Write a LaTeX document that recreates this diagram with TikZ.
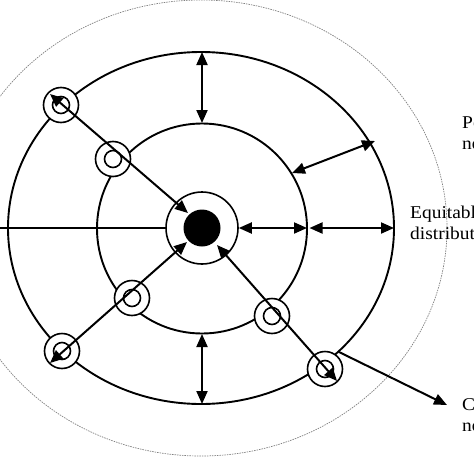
\documentclass[tikz,border=0pt]{standalone}
\usepackage{fontspec}
\setmainfont{Liberation Serif}[FakeStretch=1.08]
\usetikzlibrary{arrows.meta}
\begin{document}
\begin{tikzpicture}[x=1pt,y=-1pt,
  ring/.style={line width=1.9pt},
  conn/.style={line width=2pt},
  tip/.style={-{Triangle[length=13pt,width=11pt]}},
  tips/.style={{Triangle[length=13pt,width=11pt]}-{Triangle[length=13pt,width=11pt]}},
  member/.style={circle,draw,line width=1.6pt,fill=white,minimum size=35pt,inner sep=0pt,
    path picture={\draw[line width=1.6pt] (path picture bounding box.center) circle (8.5pt);}},
  lbl/.style={align=left,anchor=base west,inner sep=0pt,font=\fontsize{18}{21}\selectfont}
]
\useasboundingbox (0,0) rectangle (474,474);
% dotted boundary
\draw[gray,line width=0.7pt,dash pattern=on 1.5pt off 1pt] (201,228) ellipse [x radius=246, y radius=228];
% rings
\draw[ring] (201,228) ellipse [x radius=193, y radius=176];
\draw[ring] (202,228.5) circle (105);
% hub
\node[circle,draw,line width=1.6pt,minimum size=72pt,inner sep=0pt] (hubring) at (202,228) {};
\node[circle,fill=black,minimum size=37pt,inner sep=0pt] (hub) at (202,228) {};
% left line
\coordinate (lft) at (-5,228);
\draw[conn] (lft) -- (hubring.west);
% member nodes
\node[member] (n1) at (61,105) {};
\node[member] (n2) at (113,159) {};
\node[member] (n3) at (132,298) {};
\node[member] (n4) at (62,351) {};
\node[member] (n5) at (272,316) {};
\node[member] (n6) at (325,369) {};
% arrow tip coordinates
\coordinate (a1) at (50,94);   \coordinate (b1) at (188,213);
\coordinate (a4) at (50,363);  \coordinate (b4) at (187,242);
\coordinate (a6) at (337,381); \coordinate (b6) at (217,245);
\draw[conn,tips] (a1) -- (b1);
\draw[conn,tips] (a4) -- (b4);
\draw[conn,tips] (b6) -- (a6);
% ring gap arrows
\coordinate (vt1) at (202,52);  \coordinate (vt2) at (202,123);
\coordinate (vb1) at (202,334); \coordinate (vb2) at (202,404);
\coordinate (hm) at (307,228);  \coordinate (hm2) at (309.5,228); \coordinate (ho) at (394,228);
\coordinate (dm) at (292,173);  \coordinate (do) at (375,141);
\draw[conn,tips] (vt1) -- (vt2);
\draw[conn,tips] (vb1) -- (vb2);
\draw[conn,tips] (hubring.east) -- (hm);
\draw[conn,tips] (hm2) -- (ho);
\draw[conn,tips] (dm) -- (do);
% arrow to label
\coordinate (cs) at (339,352); \coordinate (ce) at (447,405);
\draw[conn,tip] (cs) -- (ce);
% labels (base anchor = last line)
\node[lbl] (lp) at (462,149) {Peripheral\\network};
\node[lbl] (le) at (410,239) {Equitable\\distribution};
\node[lbl] (lc) at (462,431) {Core\\network};
\end{tikzpicture}
\end{document}
